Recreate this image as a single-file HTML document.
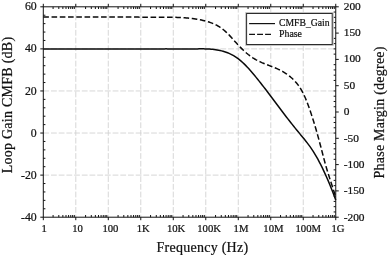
<!DOCTYPE html>
<html><head><meta charset="utf-8"><title>Loop Gain CMFB</title>
<style>html,body{margin:0;padding:0;background:#fff}body{width:388px;height:255px;overflow:hidden}</style>
</head><body>
<svg width="388" height="255" viewBox="0 0 388 255" style="display:block;font-family:'Liberation Serif',serif">
<rect width="388" height="255" fill="#fff"/>
<style>text{stroke:#111;stroke-width:0.22px;paint-order:stroke}</style>
<g stroke="#d2d2d2" stroke-width="0.9" stroke-dasharray="5.8 1.9" fill="none">
<line x1="75.79" y1="6.8" x2="75.79" y2="217.2"/>
<line x1="108.29" y1="6.8" x2="108.29" y2="217.2"/>
<line x1="140.78" y1="6.8" x2="140.78" y2="217.2"/>
<line x1="173.28" y1="6.8" x2="173.28" y2="217.2"/>
<line x1="205.77" y1="6.8" x2="205.77" y2="217.2"/>
<line x1="238.27" y1="6.8" x2="238.27" y2="217.2"/>
<line x1="270.76" y1="6.8" x2="270.76" y2="217.2"/>
<line x1="303.26" y1="6.8" x2="303.26" y2="217.2"/>
<line x1="43.3" y1="48.88" x2="335.75" y2="48.88"/>
<line x1="43.3" y1="90.96" x2="335.75" y2="90.96"/>
<line x1="43.3" y1="133.04" x2="335.75" y2="133.04"/>
<line x1="43.3" y1="175.12" x2="335.75" y2="175.12"/>
</g>
<path d="M43.30,48.90 L160.00,48.90 L161.50,48.89 L163.00,48.88 L164.51,48.88 L166.01,48.87 L167.51,48.88 L169.01,48.88 L170.51,48.89 L172.02,48.91 L173.52,48.93 L175.02,48.95 L176.52,48.97 L178.03,48.99 L179.53,49.01 L181.03,49.02 L182.53,49.03 L184.03,49.04 L185.54,49.04 L187.04,49.03 L188.54,49.03 L190.04,49.01 L191.54,48.99 L193.05,48.96 L194.55,48.94 L196.05,48.91 L197.55,48.89 L199.06,48.87 L200.56,48.86 L202.06,48.86 L203.56,48.87 L205.06,48.90 L206.57,48.95 L208.07,49.01 L209.57,49.10 L211.07,49.21 L212.57,49.35 L214.08,49.52 L215.58,49.72 L217.08,49.96 L218.58,50.23 L220.09,50.54 L221.59,50.89 L223.09,51.29 L224.59,51.73 L226.09,52.23 L227.60,52.78 L229.10,53.39 L230.60,54.07 L232.10,54.82 L233.60,55.65 L235.11,56.56 L236.61,57.55 L238.11,58.64 L239.61,59.82 L241.12,61.09 L242.62,62.45 L244.12,63.88 L245.62,65.39 L247.12,66.96 L248.63,68.59 L250.13,70.27 L251.63,71.99 L253.13,73.75 L254.63,75.55 L256.14,77.38 L257.64,79.23 L259.14,81.10 L260.64,83.00 L262.15,84.92 L263.65,86.86 L265.15,88.82 L266.65,90.78 L268.15,92.76 L269.66,94.75 L271.16,96.74 L272.66,98.74 L274.16,100.75 L275.66,102.75 L277.17,104.76 L278.67,106.76 L280.17,108.76 L281.67,110.75 L283.18,112.73 L284.68,114.71 L286.18,116.68 L287.68,118.63 L289.18,120.57 L290.69,122.49 L292.19,124.40 L293.69,126.29 L295.19,128.15 L296.69,130.00 L298.20,131.81 L299.70,133.62 L301.20,135.41 L302.70,137.22 L304.21,139.05 L305.71,140.92 L307.21,142.85 L308.71,144.84 L310.21,146.92 L311.72,149.09 L313.22,151.38 L314.72,153.79 L316.22,156.33 L317.72,158.99 L319.23,161.77 L320.73,164.68 L322.23,167.70 L323.73,170.83 L325.24,174.08 L326.74,177.45 L328.24,180.92 L329.74,184.51 L331.24,188.20 L332.75,192.00 L334.25,195.90 L335.75,199.91" fill="none" stroke="#0a0a0a" stroke-width="1.5" stroke-linejoin="round"/>
<path d="M43.30,17.10 L120.00,17.10 L121.51,17.09 L123.02,17.09 L124.53,17.08 L126.03,17.08 L127.54,17.08 L129.05,17.07 L130.56,17.08 L132.07,17.08 L133.58,17.08 L135.09,17.09 L136.60,17.10 L138.10,17.12 L139.61,17.13 L141.12,17.14 L142.63,17.15 L144.14,17.16 L145.65,17.18 L147.16,17.19 L148.67,17.20 L150.17,17.21 L151.68,17.22 L153.19,17.23 L154.70,17.24 L156.21,17.24 L157.72,17.25 L159.23,17.25 L160.74,17.25 L162.24,17.25 L163.75,17.25 L165.26,17.25 L166.77,17.26 L168.28,17.26 L169.79,17.27 L171.30,17.28 L172.81,17.30 L174.31,17.33 L175.82,17.36 L177.33,17.40 L178.84,17.46 L180.35,17.52 L181.86,17.59 L183.37,17.68 L184.88,17.78 L186.38,17.90 L187.89,18.03 L189.40,18.17 L190.91,18.34 L192.42,18.52 L193.93,18.73 L195.44,18.95 L196.95,19.20 L198.45,19.47 L199.96,19.76 L201.47,20.08 L202.98,20.42 L204.49,20.79 L206.00,21.18 L207.51,21.61 L209.02,22.08 L210.52,22.59 L212.03,23.15 L213.54,23.76 L215.05,24.45 L216.56,25.20 L218.07,26.03 L219.58,26.95 L221.09,27.95 L222.59,29.06 L224.10,30.27 L225.61,31.59 L227.12,33.02 L228.63,34.54 L230.14,36.13 L231.65,37.77 L233.16,39.45 L234.66,41.13 L236.17,42.81 L237.68,44.47 L239.19,46.08 L240.70,47.63 L242.21,49.13 L243.72,50.57 L245.23,51.95 L246.73,53.25 L248.24,54.49 L249.75,55.66 L251.26,56.76 L252.77,57.78 L254.28,58.74 L255.79,59.62 L257.30,60.44 L258.80,61.21 L260.31,61.92 L261.82,62.60 L263.33,63.24 L264.84,63.85 L266.35,64.45 L267.86,65.03 L269.37,65.60 L270.87,66.18 L272.38,66.76 L273.89,67.36 L275.40,67.98 L276.91,68.63 L278.42,69.32 L279.93,70.05 L281.44,70.82 L282.94,71.66 L284.45,72.56 L285.96,73.53 L287.47,74.58 L288.98,75.72 L290.49,76.95 L292.00,78.27 L293.51,79.71 L295.01,81.26 L296.52,82.98 L298.03,84.89 L299.54,87.03 L301.05,89.43 L302.56,92.12 L304.07,95.16 L305.58,98.55 L307.08,102.29 L308.59,106.34 L310.10,110.62 L311.61,115.12 L313.12,119.82 L314.63,124.71 L316.14,129.81 L317.65,135.10 L319.15,140.58 L320.66,146.26 L322.17,152.06 L323.68,157.85 L325.19,163.45 L326.70,168.71 L328.21,173.66 L329.72,178.38 L331.22,182.99 L332.73,187.59 L334.24,192.28 L335.75,197.15" fill="none" stroke="#0a0a0a" stroke-width="1.5" stroke-dasharray="5.6 2.65" stroke-linejoin="round"/>
<g stroke="#111" stroke-width="1" fill="none">
<rect x="43.3" y="6.8" width="292.45" height="210.40"/>
<line x1="43.30" y1="217.2" x2="43.30" y2="220.2"/>
<line x1="43.30" y1="6.8" x2="43.30" y2="3.8"/>
<line x1="53.08" y1="217.2" x2="53.08" y2="215.0"/>
<line x1="53.08" y1="6.8" x2="53.08" y2="9.0"/>
<line x1="58.80" y1="217.2" x2="58.80" y2="215.0"/>
<line x1="58.80" y1="6.8" x2="58.80" y2="9.0"/>
<line x1="62.86" y1="217.2" x2="62.86" y2="215.0"/>
<line x1="62.86" y1="6.8" x2="62.86" y2="9.0"/>
<line x1="66.01" y1="217.2" x2="66.01" y2="215.0"/>
<line x1="66.01" y1="6.8" x2="66.01" y2="9.0"/>
<line x1="68.59" y1="217.2" x2="68.59" y2="215.0"/>
<line x1="68.59" y1="6.8" x2="68.59" y2="9.0"/>
<line x1="70.76" y1="217.2" x2="70.76" y2="215.0"/>
<line x1="70.76" y1="6.8" x2="70.76" y2="9.0"/>
<line x1="72.65" y1="217.2" x2="72.65" y2="215.0"/>
<line x1="72.65" y1="6.8" x2="72.65" y2="9.0"/>
<line x1="74.31" y1="217.2" x2="74.31" y2="215.0"/>
<line x1="74.31" y1="6.8" x2="74.31" y2="9.0"/>
<line x1="75.79" y1="217.2" x2="75.79" y2="220.2"/>
<line x1="75.79" y1="6.8" x2="75.79" y2="3.8"/>
<line x1="85.58" y1="217.2" x2="85.58" y2="215.0"/>
<line x1="85.58" y1="6.8" x2="85.58" y2="9.0"/>
<line x1="91.30" y1="217.2" x2="91.30" y2="215.0"/>
<line x1="91.30" y1="6.8" x2="91.30" y2="9.0"/>
<line x1="95.36" y1="217.2" x2="95.36" y2="215.0"/>
<line x1="95.36" y1="6.8" x2="95.36" y2="9.0"/>
<line x1="98.51" y1="217.2" x2="98.51" y2="215.0"/>
<line x1="98.51" y1="6.8" x2="98.51" y2="9.0"/>
<line x1="101.08" y1="217.2" x2="101.08" y2="215.0"/>
<line x1="101.08" y1="6.8" x2="101.08" y2="9.0"/>
<line x1="103.26" y1="217.2" x2="103.26" y2="215.0"/>
<line x1="103.26" y1="6.8" x2="103.26" y2="9.0"/>
<line x1="105.14" y1="217.2" x2="105.14" y2="215.0"/>
<line x1="105.14" y1="6.8" x2="105.14" y2="9.0"/>
<line x1="106.80" y1="217.2" x2="106.80" y2="215.0"/>
<line x1="106.80" y1="6.8" x2="106.80" y2="9.0"/>
<line x1="108.29" y1="217.2" x2="108.29" y2="220.2"/>
<line x1="108.29" y1="6.8" x2="108.29" y2="3.8"/>
<line x1="118.07" y1="217.2" x2="118.07" y2="215.0"/>
<line x1="118.07" y1="6.8" x2="118.07" y2="9.0"/>
<line x1="123.79" y1="217.2" x2="123.79" y2="215.0"/>
<line x1="123.79" y1="6.8" x2="123.79" y2="9.0"/>
<line x1="127.85" y1="217.2" x2="127.85" y2="215.0"/>
<line x1="127.85" y1="6.8" x2="127.85" y2="9.0"/>
<line x1="131.00" y1="217.2" x2="131.00" y2="215.0"/>
<line x1="131.00" y1="6.8" x2="131.00" y2="9.0"/>
<line x1="133.57" y1="217.2" x2="133.57" y2="215.0"/>
<line x1="133.57" y1="6.8" x2="133.57" y2="9.0"/>
<line x1="135.75" y1="217.2" x2="135.75" y2="215.0"/>
<line x1="135.75" y1="6.8" x2="135.75" y2="9.0"/>
<line x1="137.63" y1="217.2" x2="137.63" y2="215.0"/>
<line x1="137.63" y1="6.8" x2="137.63" y2="9.0"/>
<line x1="139.30" y1="217.2" x2="139.30" y2="215.0"/>
<line x1="139.30" y1="6.8" x2="139.30" y2="9.0"/>
<line x1="140.78" y1="217.2" x2="140.78" y2="220.2"/>
<line x1="140.78" y1="6.8" x2="140.78" y2="3.8"/>
<line x1="150.57" y1="217.2" x2="150.57" y2="215.0"/>
<line x1="150.57" y1="6.8" x2="150.57" y2="9.0"/>
<line x1="156.29" y1="217.2" x2="156.29" y2="215.0"/>
<line x1="156.29" y1="6.8" x2="156.29" y2="9.0"/>
<line x1="160.35" y1="217.2" x2="160.35" y2="215.0"/>
<line x1="160.35" y1="6.8" x2="160.35" y2="9.0"/>
<line x1="163.50" y1="217.2" x2="163.50" y2="215.0"/>
<line x1="163.50" y1="6.8" x2="163.50" y2="9.0"/>
<line x1="166.07" y1="217.2" x2="166.07" y2="215.0"/>
<line x1="166.07" y1="6.8" x2="166.07" y2="9.0"/>
<line x1="168.24" y1="217.2" x2="168.24" y2="215.0"/>
<line x1="168.24" y1="6.8" x2="168.24" y2="9.0"/>
<line x1="170.13" y1="217.2" x2="170.13" y2="215.0"/>
<line x1="170.13" y1="6.8" x2="170.13" y2="9.0"/>
<line x1="171.79" y1="217.2" x2="171.79" y2="215.0"/>
<line x1="171.79" y1="6.8" x2="171.79" y2="9.0"/>
<line x1="173.28" y1="217.2" x2="173.28" y2="220.2"/>
<line x1="173.28" y1="6.8" x2="173.28" y2="3.8"/>
<line x1="183.06" y1="217.2" x2="183.06" y2="215.0"/>
<line x1="183.06" y1="6.8" x2="183.06" y2="9.0"/>
<line x1="188.78" y1="217.2" x2="188.78" y2="215.0"/>
<line x1="188.78" y1="6.8" x2="188.78" y2="9.0"/>
<line x1="192.84" y1="217.2" x2="192.84" y2="215.0"/>
<line x1="192.84" y1="6.8" x2="192.84" y2="9.0"/>
<line x1="195.99" y1="217.2" x2="195.99" y2="215.0"/>
<line x1="195.99" y1="6.8" x2="195.99" y2="9.0"/>
<line x1="198.56" y1="217.2" x2="198.56" y2="215.0"/>
<line x1="198.56" y1="6.8" x2="198.56" y2="9.0"/>
<line x1="200.74" y1="217.2" x2="200.74" y2="215.0"/>
<line x1="200.74" y1="6.8" x2="200.74" y2="9.0"/>
<line x1="202.62" y1="217.2" x2="202.62" y2="215.0"/>
<line x1="202.62" y1="6.8" x2="202.62" y2="9.0"/>
<line x1="204.29" y1="217.2" x2="204.29" y2="215.0"/>
<line x1="204.29" y1="6.8" x2="204.29" y2="9.0"/>
<line x1="205.77" y1="217.2" x2="205.77" y2="220.2"/>
<line x1="205.77" y1="6.8" x2="205.77" y2="3.8"/>
<line x1="215.55" y1="217.2" x2="215.55" y2="215.0"/>
<line x1="215.55" y1="6.8" x2="215.55" y2="9.0"/>
<line x1="221.28" y1="217.2" x2="221.28" y2="215.0"/>
<line x1="221.28" y1="6.8" x2="221.28" y2="9.0"/>
<line x1="225.34" y1="217.2" x2="225.34" y2="215.0"/>
<line x1="225.34" y1="6.8" x2="225.34" y2="9.0"/>
<line x1="228.48" y1="217.2" x2="228.48" y2="215.0"/>
<line x1="228.48" y1="6.8" x2="228.48" y2="9.0"/>
<line x1="231.06" y1="217.2" x2="231.06" y2="215.0"/>
<line x1="231.06" y1="6.8" x2="231.06" y2="9.0"/>
<line x1="233.23" y1="217.2" x2="233.23" y2="215.0"/>
<line x1="233.23" y1="6.8" x2="233.23" y2="9.0"/>
<line x1="235.12" y1="217.2" x2="235.12" y2="215.0"/>
<line x1="235.12" y1="6.8" x2="235.12" y2="9.0"/>
<line x1="236.78" y1="217.2" x2="236.78" y2="215.0"/>
<line x1="236.78" y1="6.8" x2="236.78" y2="9.0"/>
<line x1="238.27" y1="217.2" x2="238.27" y2="220.2"/>
<line x1="238.27" y1="6.8" x2="238.27" y2="3.8"/>
<line x1="248.05" y1="217.2" x2="248.05" y2="215.0"/>
<line x1="248.05" y1="6.8" x2="248.05" y2="9.0"/>
<line x1="253.77" y1="217.2" x2="253.77" y2="215.0"/>
<line x1="253.77" y1="6.8" x2="253.77" y2="9.0"/>
<line x1="257.83" y1="217.2" x2="257.83" y2="215.0"/>
<line x1="257.83" y1="6.8" x2="257.83" y2="9.0"/>
<line x1="260.98" y1="217.2" x2="260.98" y2="215.0"/>
<line x1="260.98" y1="6.8" x2="260.98" y2="9.0"/>
<line x1="263.55" y1="217.2" x2="263.55" y2="215.0"/>
<line x1="263.55" y1="6.8" x2="263.55" y2="9.0"/>
<line x1="265.73" y1="217.2" x2="265.73" y2="215.0"/>
<line x1="265.73" y1="6.8" x2="265.73" y2="9.0"/>
<line x1="267.61" y1="217.2" x2="267.61" y2="215.0"/>
<line x1="267.61" y1="6.8" x2="267.61" y2="9.0"/>
<line x1="269.27" y1="217.2" x2="269.27" y2="215.0"/>
<line x1="269.27" y1="6.8" x2="269.27" y2="9.0"/>
<line x1="270.76" y1="217.2" x2="270.76" y2="220.2"/>
<line x1="270.76" y1="6.8" x2="270.76" y2="3.8"/>
<line x1="280.54" y1="217.2" x2="280.54" y2="215.0"/>
<line x1="280.54" y1="6.8" x2="280.54" y2="9.0"/>
<line x1="286.26" y1="217.2" x2="286.26" y2="215.0"/>
<line x1="286.26" y1="6.8" x2="286.26" y2="9.0"/>
<line x1="290.32" y1="217.2" x2="290.32" y2="215.0"/>
<line x1="290.32" y1="6.8" x2="290.32" y2="9.0"/>
<line x1="293.47" y1="217.2" x2="293.47" y2="215.0"/>
<line x1="293.47" y1="6.8" x2="293.47" y2="9.0"/>
<line x1="296.05" y1="217.2" x2="296.05" y2="215.0"/>
<line x1="296.05" y1="6.8" x2="296.05" y2="9.0"/>
<line x1="298.22" y1="217.2" x2="298.22" y2="215.0"/>
<line x1="298.22" y1="6.8" x2="298.22" y2="9.0"/>
<line x1="300.11" y1="217.2" x2="300.11" y2="215.0"/>
<line x1="300.11" y1="6.8" x2="300.11" y2="9.0"/>
<line x1="301.77" y1="217.2" x2="301.77" y2="215.0"/>
<line x1="301.77" y1="6.8" x2="301.77" y2="9.0"/>
<line x1="303.26" y1="217.2" x2="303.26" y2="220.2"/>
<line x1="303.26" y1="6.8" x2="303.26" y2="3.8"/>
<line x1="313.04" y1="217.2" x2="313.04" y2="215.0"/>
<line x1="313.04" y1="6.8" x2="313.04" y2="9.0"/>
<line x1="318.76" y1="217.2" x2="318.76" y2="215.0"/>
<line x1="318.76" y1="6.8" x2="318.76" y2="9.0"/>
<line x1="322.82" y1="217.2" x2="322.82" y2="215.0"/>
<line x1="322.82" y1="6.8" x2="322.82" y2="9.0"/>
<line x1="325.97" y1="217.2" x2="325.97" y2="215.0"/>
<line x1="325.97" y1="6.8" x2="325.97" y2="9.0"/>
<line x1="328.54" y1="217.2" x2="328.54" y2="215.0"/>
<line x1="328.54" y1="6.8" x2="328.54" y2="9.0"/>
<line x1="330.72" y1="217.2" x2="330.72" y2="215.0"/>
<line x1="330.72" y1="6.8" x2="330.72" y2="9.0"/>
<line x1="332.60" y1="217.2" x2="332.60" y2="215.0"/>
<line x1="332.60" y1="6.8" x2="332.60" y2="9.0"/>
<line x1="334.26" y1="217.2" x2="334.26" y2="215.0"/>
<line x1="334.26" y1="6.8" x2="334.26" y2="9.0"/>
<line x1="335.75" y1="217.2" x2="335.75" y2="220.2"/>
<line x1="335.75" y1="6.8" x2="335.75" y2="3.8"/>
<line x1="43.3" y1="6.80" x2="40.3" y2="6.80"/>
<line x1="43.3" y1="15.22" x2="45.4" y2="15.22"/>
<line x1="43.3" y1="23.63" x2="45.4" y2="23.63"/>
<line x1="43.3" y1="32.05" x2="45.4" y2="32.05"/>
<line x1="43.3" y1="40.46" x2="45.4" y2="40.46"/>
<line x1="43.3" y1="48.88" x2="40.3" y2="48.88"/>
<line x1="43.3" y1="57.30" x2="45.4" y2="57.30"/>
<line x1="43.3" y1="65.71" x2="45.4" y2="65.71"/>
<line x1="43.3" y1="74.13" x2="45.4" y2="74.13"/>
<line x1="43.3" y1="82.54" x2="45.4" y2="82.54"/>
<line x1="43.3" y1="90.96" x2="40.3" y2="90.96"/>
<line x1="43.3" y1="99.38" x2="45.4" y2="99.38"/>
<line x1="43.3" y1="107.79" x2="45.4" y2="107.79"/>
<line x1="43.3" y1="116.21" x2="45.4" y2="116.21"/>
<line x1="43.3" y1="124.62" x2="45.4" y2="124.62"/>
<line x1="43.3" y1="133.04" x2="40.3" y2="133.04"/>
<line x1="43.3" y1="141.46" x2="45.4" y2="141.46"/>
<line x1="43.3" y1="149.87" x2="45.4" y2="149.87"/>
<line x1="43.3" y1="158.29" x2="45.4" y2="158.29"/>
<line x1="43.3" y1="166.70" x2="45.4" y2="166.70"/>
<line x1="43.3" y1="175.12" x2="40.3" y2="175.12"/>
<line x1="43.3" y1="183.54" x2="45.4" y2="183.54"/>
<line x1="43.3" y1="191.95" x2="45.4" y2="191.95"/>
<line x1="43.3" y1="200.37" x2="45.4" y2="200.37"/>
<line x1="43.3" y1="208.78" x2="45.4" y2="208.78"/>
<line x1="43.3" y1="217.20" x2="40.3" y2="217.20"/>
<line x1="335.75" y1="6.80" x2="338.75" y2="6.80"/>
<line x1="335.75" y1="12.06" x2="333.65" y2="12.06"/>
<line x1="335.75" y1="17.32" x2="333.65" y2="17.32"/>
<line x1="335.75" y1="22.58" x2="333.65" y2="22.58"/>
<line x1="335.75" y1="27.84" x2="333.65" y2="27.84"/>
<line x1="335.75" y1="33.10" x2="338.75" y2="33.10"/>
<line x1="335.75" y1="38.36" x2="333.65" y2="38.36"/>
<line x1="335.75" y1="43.62" x2="333.65" y2="43.62"/>
<line x1="335.75" y1="48.88" x2="333.65" y2="48.88"/>
<line x1="335.75" y1="54.14" x2="333.65" y2="54.14"/>
<line x1="335.75" y1="59.40" x2="338.75" y2="59.40"/>
<line x1="335.75" y1="64.66" x2="333.65" y2="64.66"/>
<line x1="335.75" y1="69.92" x2="333.65" y2="69.92"/>
<line x1="335.75" y1="75.18" x2="333.65" y2="75.18"/>
<line x1="335.75" y1="80.44" x2="333.65" y2="80.44"/>
<line x1="335.75" y1="85.70" x2="338.75" y2="85.70"/>
<line x1="335.75" y1="90.96" x2="333.65" y2="90.96"/>
<line x1="335.75" y1="96.22" x2="333.65" y2="96.22"/>
<line x1="335.75" y1="101.48" x2="333.65" y2="101.48"/>
<line x1="335.75" y1="106.74" x2="333.65" y2="106.74"/>
<line x1="335.75" y1="112.00" x2="338.75" y2="112.00"/>
<line x1="335.75" y1="117.26" x2="333.65" y2="117.26"/>
<line x1="335.75" y1="122.52" x2="333.65" y2="122.52"/>
<line x1="335.75" y1="127.78" x2="333.65" y2="127.78"/>
<line x1="335.75" y1="133.04" x2="333.65" y2="133.04"/>
<line x1="335.75" y1="138.30" x2="338.75" y2="138.30"/>
<line x1="335.75" y1="143.56" x2="333.65" y2="143.56"/>
<line x1="335.75" y1="148.82" x2="333.65" y2="148.82"/>
<line x1="335.75" y1="154.08" x2="333.65" y2="154.08"/>
<line x1="335.75" y1="159.34" x2="333.65" y2="159.34"/>
<line x1="335.75" y1="164.60" x2="338.75" y2="164.60"/>
<line x1="335.75" y1="169.86" x2="333.65" y2="169.86"/>
<line x1="335.75" y1="175.12" x2="333.65" y2="175.12"/>
<line x1="335.75" y1="180.38" x2="333.65" y2="180.38"/>
<line x1="335.75" y1="185.64" x2="333.65" y2="185.64"/>
<line x1="335.75" y1="190.90" x2="338.75" y2="190.90"/>
<line x1="335.75" y1="196.16" x2="333.65" y2="196.16"/>
<line x1="335.75" y1="201.42" x2="333.65" y2="201.42"/>
<line x1="335.75" y1="206.68" x2="333.65" y2="206.68"/>
<line x1="335.75" y1="211.94" x2="333.65" y2="211.94"/>
<line x1="335.75" y1="217.20" x2="338.75" y2="217.20"/>
</g>
<g font-size="10.7" fill="#111">
<text x="41.40" y="232.2">1</text>
<text x="72.20" y="232.2">10</text>
<text x="102.40" y="232.2">100</text>
<text x="136.70" y="232.2">1K</text>
<text x="166.90" y="232.2">10K</text>
<text x="197.20" y="232.2">100K</text>
<text x="233.60" y="232.2">1M</text>
<text x="263.30" y="232.2">10M</text>
<text x="295.50" y="232.2">100M</text>
<text x="331.50" y="232.2">1G</text>
</g>
<g font-size="11.8" fill="#111">
<text x="36.7" y="10.30" text-anchor="end">60</text>
<text x="36.7" y="52.46" text-anchor="end">40</text>
<text x="36.7" y="94.62" text-anchor="end">20</text>
<text x="36.7" y="136.78" text-anchor="end">0</text>
<text x="36.7" y="178.94" text-anchor="end">-20</text>
<text x="36.7" y="221.10" text-anchor="end">-40</text>
</g>
<g font-size="11.4" fill="#111">
<text x="343.7" y="9.75">200</text>
<text x="343.7" y="36.11">150</text>
<text x="343.7" y="62.46">100</text>
<text x="343.7" y="88.82">50</text>
<text x="343.7" y="115.17">0</text>
<text x="343.7" y="141.53">-50</text>
<text x="343.7" y="167.89">-100</text>
<text x="343.7" y="194.24">-150</text>
<text x="343.7" y="220.60">-200</text>
</g>
<g font-size="14" fill="#111">
<text x="156.5" y="252.1" textLength="91.6" lengthAdjust="spacing">Frequency (Hz)</text>
<text transform="translate(12.3,173.3) rotate(-90)" textLength="136.4" lengthAdjust="spacing">Loop Gain CMFB (dB)</text>
<text transform="translate(384.1,178.5) rotate(-90)" textLength="132" lengthAdjust="spacing">Phase Margin (degree)</text>
</g>
<rect x="245.8" y="12.7" width="87.3" height="32.6" fill="#fff" stroke="#b4b4b4" stroke-width="1"/>
<rect x="246.6" y="13.5" width="85.6" height="31.0" fill="#fff" stroke="#2c2c2c" stroke-width="1"/>
<line x1="249.1" y1="23.6" x2="275" y2="23.6" stroke="#111" stroke-width="1.2"/>
<line x1="249.1" y1="34.3" x2="271.6" y2="34.3" stroke="#111" stroke-width="1.15" stroke-dasharray="5.9 2.1"/>
<g font-size="10" fill="#111"><text x="279.0" y="26.2" textLength="50.6" lengthAdjust="spacingAndGlyphs">CMFB_Gain</text><text x="279.0" y="37.3" textLength="23" lengthAdjust="spacingAndGlyphs">Phase</text></g>
</svg>
</body></html>
